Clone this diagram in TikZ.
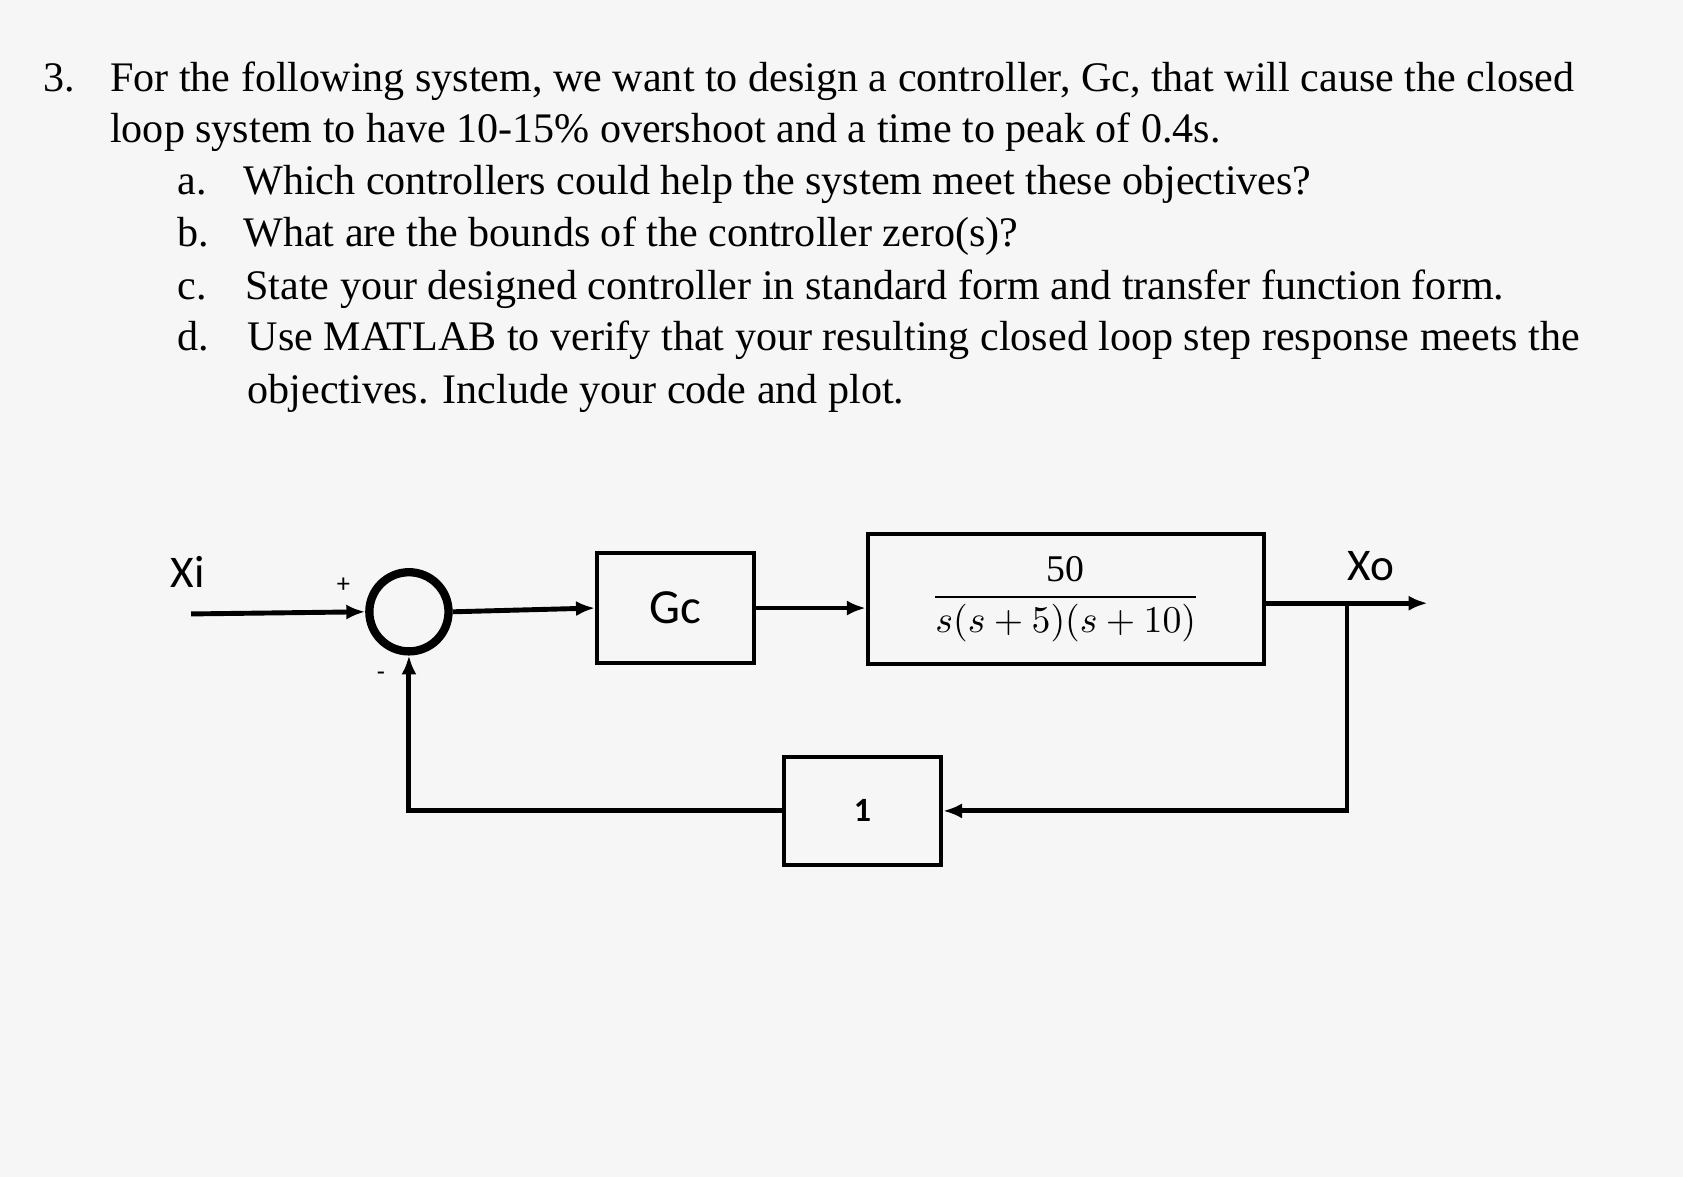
\documentclass[tikz,border=0pt]{standalone}
\usepackage{fontspec}
\setmainfont{Liberation Serif}
\newfontfamily\dsans{Carlito}
\usetikzlibrary{arrows.meta}
\begin{document}
\begin{tikzpicture}[x=0.01cm,y=-0.01cm,
  txt/.style={anchor=base west,inner sep=0,font=\fontsize{11.15}{13}\selectfont},
  blk/.style={draw,line width=1.1pt},
  wire/.style={line width=1.3pt},
  arr/.style={wire,-{Latex[length=5pt,width=4pt]}},
  lbl/.style={font=\dsans\fontsize{12}{14}\selectfont,inner sep=0}]
\fill[white!93!gray] (0,0) rectangle (1568,1097);
\useasboundingbox (0,0) rectangle (1568,1097);
\node[txt] (n3) at (40,85) {3.};
\node[txt] (l1) at (102,85) {For the following system, we want to design a controller, Gc, that will cause the closed};
\node[txt] (l2) at (102,133) {loop system to have 10-15\% overshoot and a time to peak of 0.4s.};
\node[txt] (la) at (165,181) {a.};
\node[txt] (ta) at (226,181) {Which controllers could help the system meet these objectives?};
\node[txt] (lb) at (165,230) {b.};
\node[txt] (tb) at (226,230) {What are the bounds of the controller zero(s)?};
\node[txt] (lc) at (165,279) {c.};
\node[txt] (tc) at (228,279) {State your designed controller in standard form and transfer function form.};
\node[txt] (ld) at (165,327) {d.};
\node[txt] (td) at (230,327) {Use MATLAB to verify that your resulting closed loop step response meets the};
\node[txt] (te) at (230,376) {objectives. Include your code and plot.};

\node[lbl] (xi) at (175,533) {Xi};
\node[lbl] (xo) at (1277,527) {Xo};
\coordinate (in) at (178,572);
\node[draw,circle,line width=2.2pt,minimum size=74pt*0.2835,inner sep=0] (sum) at (381,570) {};
\node[font=\dsans\scriptsize] (plus) at (320,545) {+};
\node[font=\dsans\scriptsize] (minus) at (355,630) {-};
\node[blk,minimum width=147*0.2835pt,minimum height=103*0.2835pt,inner sep=0,font=\dsans\fontsize{13}{15}\selectfont] (gc) at (629.5,566.5) {Gc};
\node[blk,minimum width=370*0.2835pt,minimum height=122*0.2835pt,inner sep=0] (g) at (993,558) {$\displaystyle\frac{\mathrm{50}}{s(s+5)(s+10)}$};
\node[blk,minimum width=147*0.2835pt,minimum height=101*0.2835pt,inner sep=0,font=\dsans\bfseries\small] (h) at (803.5,755.5) {1};
\coordinate (out) at (1330,562);
\coordinate (br) at (1255,562);
\draw[arr] (in) -- (sum.west);
\draw[arr] (sum.east) -- (gc.west);
\draw[arr] (gc.east) -- (gc.east -| g.west);
\draw[arr] (g.east |- br) -- (out);
\draw[arr] (br) |- (h.east);
\draw[arr] (h.west) -| (sum.south);
\end{tikzpicture}
\end{document}
